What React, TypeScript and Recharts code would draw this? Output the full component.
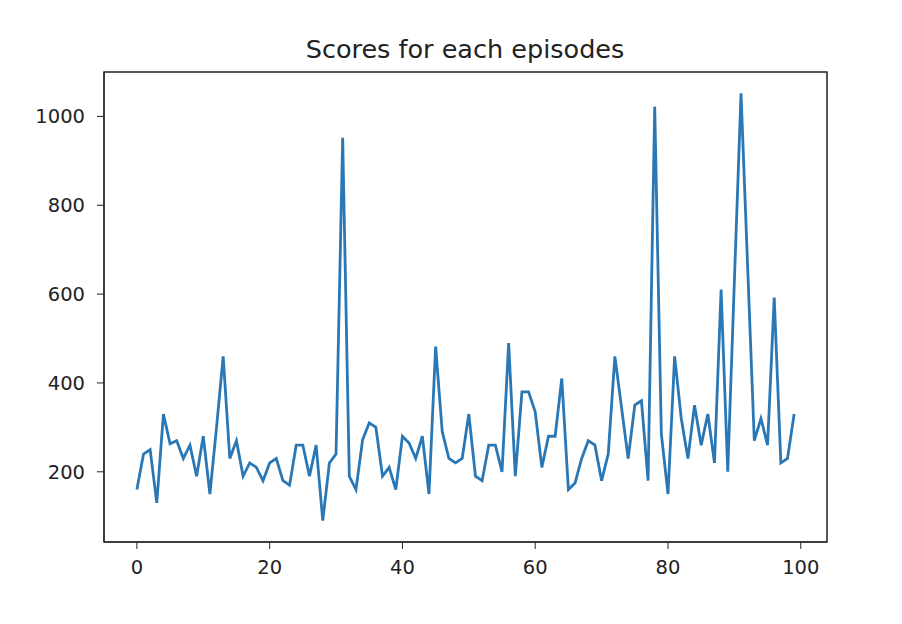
import React from "react";
import { LineChart, Line, XAxis, YAxis, ReferenceArea } from "recharts";

const episodes = Array.from({ length: 100 }, (_, i) => i);

const scores = [
  160, 240, 250, 130, 330, 263, 270, 230, 260, 190,
  280, 150, 300, 460, 230, 270, 190, 220, 210, 180,
  220, 230, 180, 170, 260, 260, 190, 260, 90, 220,
  240, 952, 190, 160, 272, 310, 300, 190, 210, 160,
  280, 265, 230, 280, 150, 482, 290, 230, 220, 230,
  330, 190, 180, 260, 260, 200, 490, 190, 380, 380,
  335, 210, 280, 280, 410, 160, 175, 230, 270, 260,
  180, 240, 460, 345, 230, 350, 360, 180, 1022, 285,
  150, 460, 320, 230, 350, 260, 330, 220, 610, 200,
  630, 1052, 660, 270, 320, 260, 592, 220, 230, 330,
];

const xTicks = [0, 20, 40, 60, 80, 100];
const yTicks = [200, 400, 600, 800, 1000];

const rows = episodes.map((ep, i) => ({ ep, score: scores[i] }));

const font = "'DejaVu Sans', sans-serif";
const tickStyle = { fill: "#222", fontSize: 19.5, fontFamily: font };

export default function App() {
  return (
    <div style={{ position: "absolute", left: 0, top: 0, width: 902, height: 624, background: "#fff" }}>
      <div
        style={{
          position: "absolute",
          left: 104,
          width: 722,
          top: 34,
          lineHeight: "30px",
          textAlign: "center",
          fontFamily: font,
          fontSize: 25.5,
          color: "#222",
        }}
      >
        Scores for each episodes
      </div>
      <LineChart
        width={902}
        height={624}
        data={rows}
        margin={{ top: 72, right: 75, bottom: 42, left: 44 }}
      >
        <XAxis
          dataKey="ep"
          type="number"
          domain={[-4.95, 103.95]}
          ticks={xTicks}
          allowDataOverflow
          height={40}
          tickSize={7}
          tickMargin={11}
          stroke="#222"
          tick={tickStyle}
        />
        <YAxis
          type="number"
          domain={[42, 1100]}
          ticks={yTicks}
          allowDataOverflow
          width={60}
          tickSize={7}
          tickMargin={12}
          stroke="#222"
          tick={tickStyle}
        />
        <ReferenceArea
          x1={-4.95}
          x2={103.95}
          y1={42}
          y2={1100}
          fill="none"
          stroke="#222"
          strokeWidth={1.5}
          fillOpacity={0}
        />
        <Line
          type="linear"
          dataKey="score"
          stroke="#2a77b5"
          strokeWidth={2.8}
          dot={false}
          isAnimationActive={false}
        />
      </LineChart>
    </div>
  );
}
